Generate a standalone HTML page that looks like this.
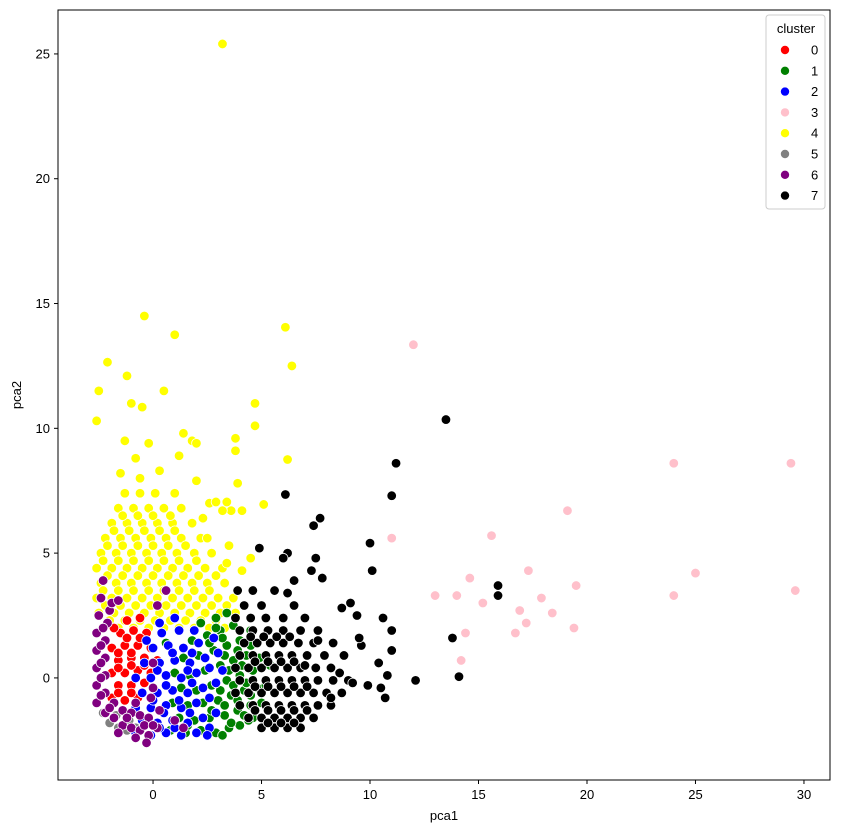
<!DOCTYPE html>
<html><head><meta charset="utf-8"><style>
body{margin:0;background:#fff;}
svg text{font-family:"Liberation Sans","DejaVu Sans",sans-serif;}
</style></head><body>
<svg id="chart" width="841" height="833" xmlns="http://www.w3.org/2000/svg">
<rect width="841" height="833" fill="#fff"/>
<g id="marks"></g>
<g id="axes"></g>
<g id="legend"></g>
</svg>
<script>
const xTicks=[0,5,10,15,20,25,30];
const yTicks=[0,5,10,15,20,25];
const clusterLabels=["0","1","2","3","4","5","6","7"];
const clusterColors=["red","green","blue","pink","yellow","gray","purple","black"];
const cluster4=[[-2.3,2.0],[-1.6,2.0],[-0.9,2.0],[-0.2,2.0],[0.5,2.0],[1.2,2.0],[1.9,2.0],[2.6,2.0],[3.3,2.0],
[-2.5,2.6],[-1.8,2.6],[-1.1,2.6],[-0.4,2.6],[0.3,2.6],[1.0,2.6],[1.7,2.6],[2.4,2.6],[3.1,2.6],[3.8,2.6],
[-2.6,3.2],[-1.9,3.2],[-1.2,3.2],[-0.5,3.2],[0.2,3.2],[0.9,3.2],[1.6,3.2],[2.3,3.2],[3.0,3.2],[3.7,3.2],
[-2.4,3.8],[-1.7,3.8],[-1.0,3.8],[-0.3,3.8],[0.4,3.8],[1.1,3.8],[1.8,3.8],[2.5,3.8],[3.3,3.8],
[-2.6,4.4],[-1.9,4.4],[-1.2,4.4],[-0.5,4.4],[0.2,4.4],[0.9,4.4],[1.6,4.4],[2.4,4.4],[3.2,4.4],
[-2.4,5.0],[-1.7,5.0],[-1.0,5.0],[-0.3,5.0],[0.4,5.0],[1.1,5.0],[1.9,5.0],[2.7,5.0],
[-2.2,5.6],[-1.5,5.6],[-0.8,5.6],[-0.1,5.6],[0.6,5.6],[1.3,5.6],[2.2,5.6],
[-1.9,6.2],[-1.2,6.2],[-0.5,6.2],[0.2,6.2],[0.9,6.2],[1.8,6.2],
[-1.6,6.8],[-0.9,6.8],[-0.2,6.8],[0.5,6.8],[1.3,6.8],
[-1.3,7.4],[-0.6,7.4],[0.1,7.4],[1.0,7.4],
[-2.0,2.3],[-1.3,2.3],[-0.6,2.3],[0.1,2.3],[0.8,2.3],[1.5,2.3],[2.2,2.3],[2.9,2.3],
[-2.2,2.9],[-1.5,2.9],[-0.8,2.9],[-0.1,2.9],[0.6,2.9],[1.3,2.9],[2.0,2.9],[2.7,2.9],[3.4,2.9],
[-2.3,3.5],[-1.6,3.5],[-0.9,3.5],[-0.2,3.5],[0.5,3.5],[1.2,3.5],[1.9,3.5],[2.6,3.5],
[-2.1,4.1],[-1.4,4.1],[-0.7,4.1],[0.0,4.1],[0.7,4.1],[1.4,4.1],[2.1,4.1],[2.9,4.1],
[-2.3,4.7],[-1.6,4.7],[-0.9,4.7],[-0.2,4.7],[0.5,4.7],[1.2,4.7],[2.0,4.7],
[-2.1,5.3],[-1.4,5.3],[-0.7,5.3],[0.0,5.3],[0.7,5.3],[1.5,5.3],
[-1.8,5.9],[-1.1,5.9],[-0.4,5.9],[0.3,5.9],[1.0,5.9],
[-1.4,6.5],[-0.7,6.5],[0.0,6.5],[0.8,6.5],
[3.2,25.4],[-0.4,14.5],[6.1,14.05],[1.0,13.75],[6.4,12.5],[-2.1,12.65],[-2.5,11.5],[-1.2,12.1],[0.5,11.5],[-1.0,11.0],[-0.5,10.85],
[4.7,11.0],[4.7,10.1],[-2.6,10.3],[1.4,9.8],[1.8,9.5],[2.0,9.4],[3.8,9.6],[3.8,9.1],[-1.3,9.5],[6.2,8.75],[1.2,8.9],
[2.0,7.9],[3.9,7.8],[2.6,7.0],[2.9,7.05],[3.4,7.05],[3.6,6.7],[5.1,6.95],[4.1,6.7],[3.2,6.7],[4.5,4.8],[3.5,5.3],[2.3,6.4],
[-0.8,8.8],[-1.5,8.2],[0.3,8.3],[-0.2,9.4],[-0.6,8.0],[2.5,5.6],[3.4,4.6],[4.1,4.3]];
const cluster1=[[0.8,-2.1],[1.5,-2.2],[2.2,-2.1],[2.9,-2.2],[3.5,-2.0],[4.0,-1.9],[4.6,-1.6],[1.2,-1.6],[1.9,-1.7],[2.6,-1.6],[3.3,-1.5],[3.9,-1.3],[4.5,-1.1],[5.0,-1.0],
[0.9,-1.0],[1.6,-1.1],[2.3,-1.0],[3.0,-0.9],[3.6,-0.7],[4.2,-0.5],[4.8,-0.4],[1.3,-0.4],[2.0,-0.5],[2.7,-0.3],[3.4,-0.1],[4.0,0.1],[4.6,0.3],
[1.0,0.2],[1.7,0.1],[2.4,0.3],[3.1,0.5],[3.7,0.7],[4.3,0.9],[4.9,0.8],[1.4,0.8],[2.1,0.9],[2.8,1.1],[3.4,1.3],[4.0,1.5],[1.8,1.5],[2.5,1.7],[3.1,1.9],[3.7,2.1],
[2.2,2.2],[2.9,2.4],[3.4,2.6],[0.6,1.4],[3.2,-2.3],[4.4,-1.7],[5.2,-0.3],[5.4,0.5],[4.5,1.9],
[3.6,-1.8],[4.2,-1.5],[3.3,-1.1],[3.9,-0.9],[4.5,-0.7],[3.1,-0.5],[3.7,-0.3],[4.3,-0.2],[3.5,0.3],[4.1,0.5],[3.3,0.9],[3.9,1.1],[4.5,1.3],[2.6,1.4],[3.2,1.6],[2.7,-1.3],[2.9,2.0],[1.6,-1.9]];
const cluster5=[[-2.0,-1.8],[-1.6,-2.0],[-1.2,-2.1],[-0.8,-2.0],[-2.3,-1.4],[-1.7,-1.5],[-1.1,-1.7]];
const cluster0=[[-1.9,-0.8],[-1.3,-0.9],[-0.7,-0.8],[-1.6,-0.3],[-1.0,-0.3],[-0.4,-0.2],[-1.9,0.2],[-1.3,0.2],[-0.7,0.3],[-0.1,0.2],[-1.6,0.7],[-1.0,0.8],[-0.4,0.8],
[-1.9,1.2],[-1.3,1.3],[-0.7,1.3],[-0.1,1.2],[-1.5,1.8],[-0.9,1.9],[-0.3,1.8],[-1.2,2.3],[-0.6,2.4],[-1.8,2.0],[0.2,0.7],
[-1.6,-0.6],[-1.0,-0.6],[-1.6,0.4],[-1.0,0.5],[-0.4,0.5],[-1.6,1.0],[-1.0,1.0],[-1.2,1.6],[-0.6,1.6]];
const cluster2=[[-0.8,-2.2],[-0.1,-2.3],[0.6,-2.2],[1.3,-2.3],[2.0,-2.2],[2.6,-2.0],[-0.5,-1.7],[0.2,-1.8],[0.9,-1.7],[1.6,-1.8],[2.3,-1.6],[2.9,-1.4],
[-0.8,-1.2],[-0.1,-1.2],[0.6,-1.1],[1.3,-1.2],[2.0,-1.0],[2.6,-0.8],[-0.5,-0.6],[0.2,-0.6],[0.9,-0.5],[1.6,-0.6],[2.3,-0.4],[2.9,-0.2],
[-0.8,0.0],[-0.1,0.0],[0.6,0.1],[1.3,0.0],[2.0,0.2],[2.6,0.4],[-0.4,0.6],[0.3,0.6],[1.0,0.7],[1.7,0.6],[2.4,0.8],[3.0,1.0],
[0.0,1.2],[0.7,1.3],[1.4,1.2],[2.1,1.4],[2.8,1.6],[0.4,1.8],[1.2,1.9],[1.9,1.9],[-0.3,1.5],[3.2,0.3],[2.5,-2.3],[1.0,2.4],[0.3,2.2],
[0.3,-2.0],[1.0,-2.0],[1.7,-1.4],[0.5,-1.4],[1.2,-0.9],[0.0,-0.9],[0.6,-0.3],[1.8,-0.2],[0.2,0.3],[1.6,0.3],[0.9,1.0],[1.8,1.0]];
const cluster6=[[-2.6,-1.0],[-2.6,-0.3],[-2.6,0.4],[-2.6,1.1],[-2.6,1.8],[-2.5,2.5],[-2.4,3.2],[-2.3,3.9],[-2.2,-1.4],[-2.2,-0.6],[-2.2,0.1],[-2.2,0.8],[-2.2,1.5],[-2.1,2.2],[-2.0,2.7],
[-1.8,-1.6],[-1.8,-1.0],[-1.4,-1.9],[-1.4,-1.3],[-1.0,-2.0],[-1.0,-1.4],[-0.6,-2.1],[-0.6,-1.5],[-0.2,-2.3],[-0.2,-1.6],[0.2,-2.0],[-0.3,-2.6],[-0.8,-2.4],[0.3,-1.3],
[-0.1,-0.8],[0.0,-0.4],[-1.9,3.0],[-1.6,3.1],[0.0,0.6],[0.2,2.9],[-0.8,-1.0],[0.6,3.5],[1.0,-1.7],[1.4,-2.0],
[-2.4,-0.7],[-2.4,0.0],[-2.4,0.6],[-2.4,1.3],[-2.3,2.0],[-2.0,-1.2],[-1.2,-1.6],[-0.4,-1.9],[-1.6,-2.2],[0.0,-1.9]];
const cluster7=[[5.0,-2.0],[5.6,-2.0],[6.2,-2.0],[6.8,-2.0],[4.4,-1.6],[5.0,-1.6],[5.6,-1.6],[6.2,-1.6],[6.8,-1.6],[7.4,-1.6],
[4.0,-1.1],[4.6,-1.1],[5.2,-1.1],[5.8,-1.1],[6.4,-1.1],[7.0,-1.1],[7.6,-1.1],[8.2,-1.1],
[3.8,-0.6],[4.4,-0.6],[5.0,-0.6],[5.6,-0.6],[6.2,-0.6],[6.8,-0.6],[7.4,-0.6],[8.0,-0.6],[8.7,-0.6],
[4.0,-0.1],[4.6,-0.1],[5.2,-0.1],[5.8,-0.1],[6.4,-0.1],[7.0,-0.1],[7.6,-0.1],[8.3,-0.1],[9.0,-0.1],
[3.8,0.4],[4.4,0.4],[5.0,0.4],[5.6,0.4],[6.2,0.4],[6.8,0.4],[7.5,0.4],[8.2,0.4],
[4.0,0.9],[4.6,0.9],[5.2,0.9],[5.8,0.9],[6.4,0.9],[7.1,0.9],[7.9,0.9],[8.8,0.9],
[4.2,1.4],[4.8,1.4],[5.4,1.4],[6.0,1.4],[6.7,1.4],[7.4,1.4],[8.3,1.4],
[4.0,1.9],[4.6,1.9],[5.3,1.9],[6.0,1.9],[6.8,1.9],[7.6,1.9],[3.8,2.4],[4.5,2.4],[5.2,2.4],[6.0,2.4],[7.0,2.4],
[4.2,2.9],[5.0,2.9],[6.5,2.9],[3.9,3.5],[4.6,3.5],[5.6,3.5],
[5.3,-1.8],[5.9,-1.8],[6.5,-1.8],[4.7,-1.3],[5.3,-1.3],[5.9,-1.3],[6.5,-1.3],[7.1,-1.3],[4.7,-0.35],[5.3,-0.35],[5.9,-0.35],[6.5,-0.35],[7.1,-0.35],
[4.7,0.65],[5.3,0.65],[5.9,0.65],[6.5,0.65],[4.5,1.65],[5.1,1.65],[5.7,1.65],[6.3,1.65],
[13.5,10.35],[11.2,8.6],[11.0,7.3],[6.1,7.35],[7.4,6.1],[7.7,6.4],[10.0,5.4],[10.1,4.3],[15.9,3.7],[15.9,3.3],[13.8,1.6],[14.1,0.05],[12.1,-0.1],
[11.0,1.9],[11.0,1.1],[10.6,2.4],[9.4,2.5],[9.1,3.0],[8.7,2.8],[7.8,4.0],[7.5,4.8],[7.3,4.3],[6.2,5.0],[6.0,4.8],[4.9,5.2],[6.5,3.9],[6.2,3.4],
[9.6,1.3],[9.5,1.6],[10.4,0.6],[10.8,0.1],[10.5,-0.4],[10.7,-0.8],[9.9,-0.3],[9.2,-0.2],[8.6,0.2],[8.2,-0.8],[7.6,1.5],[7.0,0.5]];
const cluster3=[[12.0,13.35],[11.0,5.6],[13.0,3.3],[14.0,3.3],[14.6,4.0],[14.4,1.8],[14.2,0.7],[15.2,3.0],[15.6,5.7],[16.7,1.8],[16.9,2.7],[17.2,2.2],
[17.3,4.3],[17.9,3.2],[18.4,2.6],[19.1,6.7],[19.5,3.7],[19.4,2.0],[24.0,8.6],[24.0,3.3],[25.0,4.2],[29.4,8.6],[29.6,3.5]];

const X0=58,X1=830,Y0=10,Y1=780;
const xmin=-4.38,xmax=31.2,ymin=-4.09,ymax=26.76;
function sx(v){return X0+(v-xmin)/(xmax-xmin)*(X1-X0);}
function sy(v){return Y1-(v-ymin)/(ymax-ymin)*(Y1-Y0);}
const NS="http://www.w3.org/2000/svg";
function mk(tag,attrs,parent){const e=document.createElementNS(NS,tag);for(const k in attrs)e.setAttribute(k,attrs[k]);parent.appendChild(e);return e;}
const marks=document.getElementById('marks');
const order=[[4,cluster4],[1,cluster1],[5,cluster5],[0,cluster0],[2,cluster2],[6,cluster6],[7,cluster7],[3,cluster3]];
order.forEach(([ci,pts])=>{
  pts.forEach((p,i)=>{
    const c=mk('circle',{cx:sx(p[0]),cy:sy(p[1]),r:4.8,fill:clusterColors[ci],stroke:'#fff','stroke-width':0.8},marks);
    
    
  });
});
const axes=document.getElementById('axes');
const frame=mk('rect',{x:X0,y:Y0,width:X1-X0,height:Y1-Y0,fill:'none',stroke:'#000','stroke-width':1},axes);


xTicks.forEach(t=>{
  const x=sx(t);
  mk('line',{x1:x,x2:x,y1:Y1,y2:Y1+4,stroke:'#000'},axes);
  const tx=mk('text',{x:x,y:Y1+19,'font-size':13,'text-anchor':'middle'},axes);
  tx.textContent=t;
  
  
});
yTicks.forEach(t=>{
  const y=sy(t);
  mk('line',{x1:X0-4,x2:X0,y1:y,y2:y,stroke:'#000'},axes);
  const tx=mk('text',{x:X0-8,y:y+4.5,'font-size':13,'text-anchor':'end'},axes);
  tx.textContent=t;
  
  
});
const xl=mk('text',{x:(X0+X1)/2,y:820,'font-size':13,'text-anchor':'middle'},axes);
xl.textContent='pca1';


const yl=mk('text',{x:0,y:0,'font-size':13,'text-anchor':'middle',transform:'translate(21,'+((Y0+Y1)/2)+') rotate(-90)'},axes);
yl.textContent='pca2';


const lg=document.getElementById('legend');
const box=mk('rect',{x:766,y:15,width:59,height:194,rx:3,fill:'#fff','fill-opacity':0.8,stroke:'#ccc'},lg);


const lt=mk('text',{x:796,y:33,'font-size':13,'text-anchor':'middle'},lg);
lt.textContent='cluster';


clusterLabels.forEach((lab,i)=>{
  const y=50+i*20.8;
  const g=mk('g',{},lg);
  
  
  mk('circle',{cx:785,cy:y,r:4.6,fill:clusterColors[i],stroke:'#fff','stroke-width':0.8},g);
  const t=mk('text',{x:811,y:y+4.5,'font-size':13},g);
  t.textContent=lab;
});
</script>
</body></html>
